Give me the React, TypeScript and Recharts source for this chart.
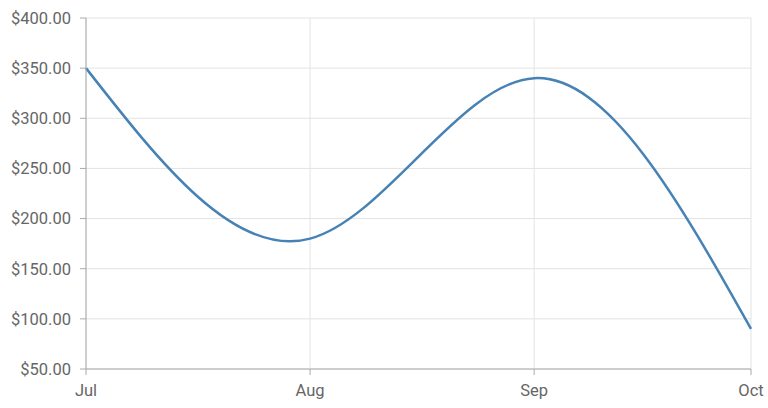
import { CartesianGrid, Line, LineChart, XAxis, YAxis } from "recharts";

// first day of each month; the x axis is a time axis, so months of 30 and 31 days differ in width
const dates = ["2023-07-01", "2023-08-01", "2023-09-01", "2023-10-01"];
const monthLabels = ["Jul", "Aug", "Sep", "Oct"];
const amounts = [350, 180, 340, 90];
const yTicks = [50, 100, 150, 200, 250, 300, 350, 400];

const times = dates.map((d) => Date.parse(d + "T00:00:00Z"));
const data = times.map((t, i) => ({ t, amount: amounts[i] }));

const tickStyle = { fill: "#666", fontSize: 16.5, fontFamily: "Roboto" };

export default function App() {
  return (
    <div style={{ position: "absolute", left: 0, top: 0 }}>
      <LineChart width={768} height={408} data={data} margin={{ top: 18, right: 17, bottom: 9, left: 0 }}>
        <CartesianGrid stroke="#e3e3e3" />
        <XAxis
          dataKey="t"
          type="number"
          scale="time"
          domain={[times[0], times[times.length - 1]]}
          ticks={times}
          tickFormatter={(v: number) => monthLabels[times.indexOf(v)] ?? ""}
          stroke="#aaa"
          tick={tickStyle}
          tickSize={6}
          tickMargin={9}
          height={30}
        />
        <YAxis
          domain={[50, 400]}
          ticks={yTicks}
          stroke="#aaa"
          tick={tickStyle}
          tickSize={6}
          tickMargin={9}
          width={86}
          tickFormatter={(v: number) => `$${v.toFixed(2)}`}
        />
        <Line
          type="natural"
          dataKey="amount"
          stroke="#4682b4"
          strokeWidth={2.5}
          dot={false}
          isAnimationActive={false}
        />
      </LineChart>
    </div>
  );
}
